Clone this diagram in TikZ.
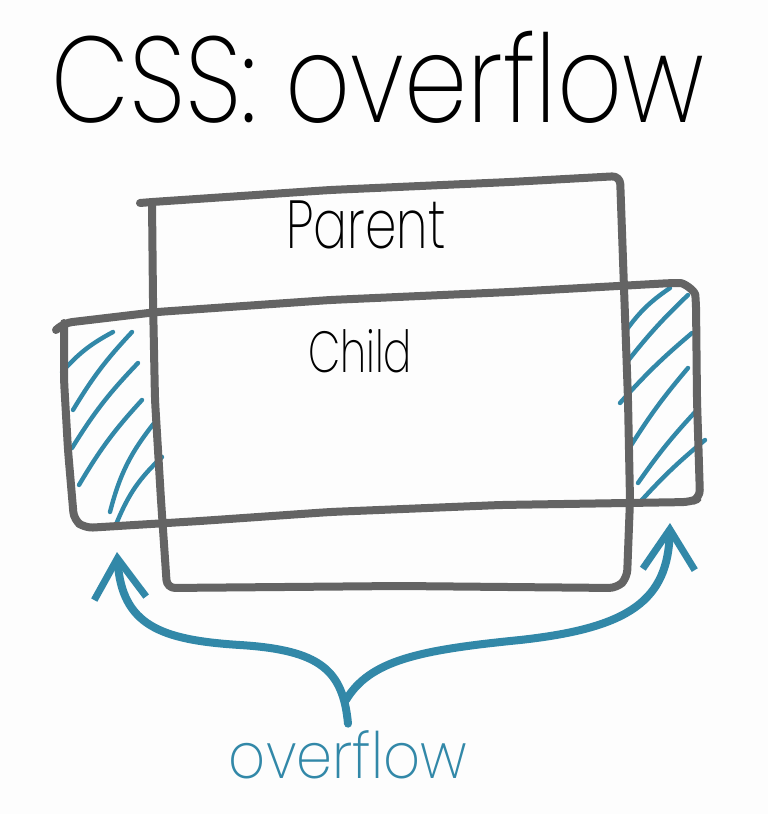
\documentclass[tikz,border=0pt]{standalone}
\usepackage{fontspec}
\newfontfamily\sketchfont{Poppins ExtraLight}
\usetikzlibrary{arrows.meta}
\definecolor{c1}{RGB}{100, 100, 100}
\definecolor{c2}{RGB}{50, 136, 168}
\definecolor{c3}{RGB}{253, 253, 253}
\tikzset{
	sketchline/.style={
		draw=c1, line width=4pt, line join=round, line cap=round
	},
	%
	hatch/.style={
		draw=c2, line width=2.2pt, line cap=round
	},
	%
	overarrow/.style={
		draw=c2, line width=4pt, line cap=round,
		-{Straight Barb[length=20pt, width=26pt, line width=3.5pt]}
	},
	%
	sketchtext/.style={
		inner sep=0pt, anchor=base
	}
}

\begin{document}
\begin{tikzpicture}[x=0.5pt, y=-0.5pt]
    \fill[c3] (0,0) rectangle (768,814);
    \useasboundingbox (0,0) rectangle (768,814);
    \node(title)[sketchtext, font=\sketchfont\fontsize{61}{61}\selectfont] at (378,122) {\scalebox{0.83}[1]{CSS: overflow}};
    % hatching of the overflowing parts
    \draw[hatch] (62,372) to[bend left=10] (113,332);
    \draw[hatch] (73,410) to[bend left=6] (132,332);
    \draw[hatch] (72,448) to[bend left=6] (138,363);
    \draw[hatch] (79,485) to[bend left=6] (142,400);
    \draw[hatch] (110,512) to[bend left=12] (155,422);
    \draw[hatch] (117,522) to[bend left=12] (162,457);
    \draw[hatch] (625,332) to[bend left=10] (670,288);
    \draw[hatch] (627,362) to[bend left=4] (688,295);
    \draw[hatch] (620,403) to[bend left=4] (692,333);
    \draw[hatch] (630,447) to[bend left=4] (688,368);
    \draw[hatch] (638,483) to[bend left=4] (697,410);
    \draw[hatch] (640,502) to[bend left=4] (705,440);
    % parent box
    \draw[sketchline, rounded corners=4pt] (140,203) -- (152,202) -- (330,190) -- (510,182) -- (620,176)
        -- (623,260) -- (628,400) -- (630,500) -- (627,578) -- (617,588) -- (400,586) -- (167,588)
        -- (161,500) -- (155,400) -- (153,300) -- (152,202);
    \node(parent)[sketchtext, font=\sketchfont\fontsize{34}{34}\selectfont] at (366,248) {\scalebox{0.74}[1]{Parent}};
    % child box
    \draw[sketchline, rounded corners=4pt] (56,330) -- (64,323) -- (157,312) -- (330,300) -- (510,292) -- (672,283)
        to[out=0, in=95] (696,303) -- (697,400) -- (700,498) -- (690,502) -- (500,505) -- (330,512) -- (200,521)
        -- (85,528) -- (74,520) -- (68,450) -- (64,380) -- (64,323);
    \node(child)[sketchtext, font=\sketchfont\fontsize{29}{29}\selectfont] at (360,372) {\scalebox{0.72}[1]{Child}};
    % label and arrows
    \node(lab)[sketchtext, text=c2, font=\sketchfont\fontsize{32}{32}\selectfont] at (348,778) {\scalebox{0.9}[1]{overflow}};
    \coordinate(split) at (346,700);
    \draw[overarrow] ([yshift=3pt]lab.north) .. controls (343,670) and (320,650) .. (240,645) .. controls (160,640) and (122,625) .. (117,552);
    \draw[overarrow] (split) .. controls (370,660) and (420,650) .. (520,640) .. controls (630,628) and (668,600) .. (670,523);
\end{tikzpicture}
\end{document}
